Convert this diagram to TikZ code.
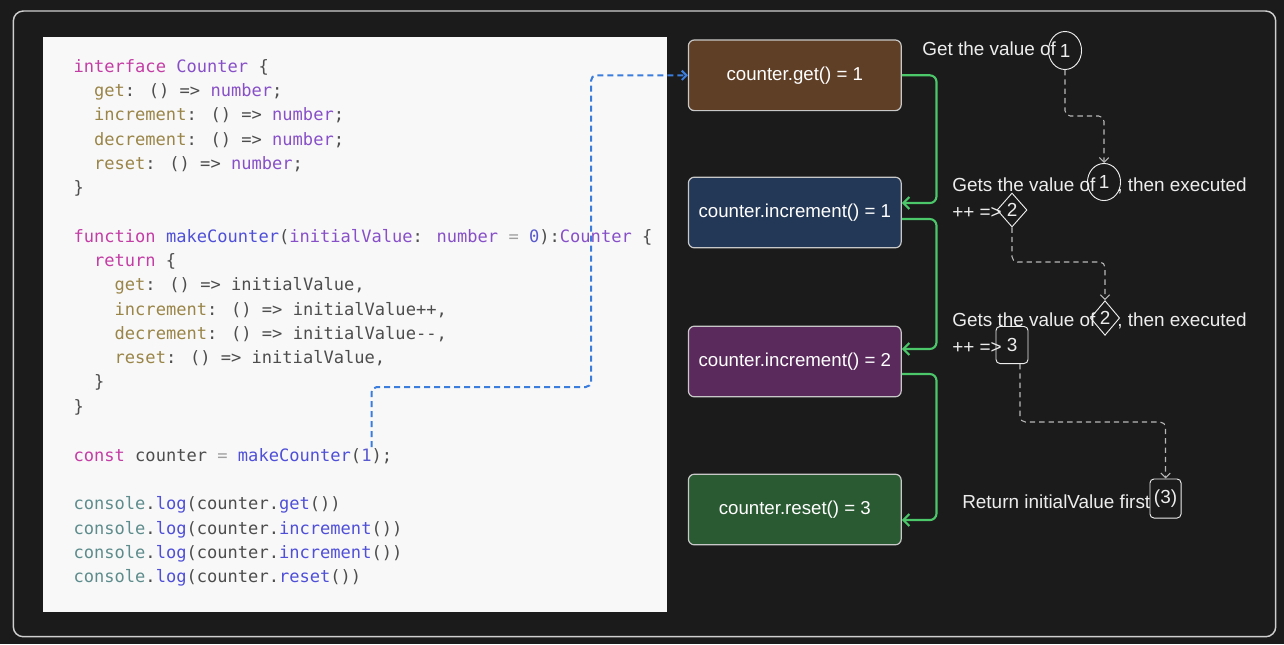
\documentclass[tikz,border=0pt]{standalone}
\usepackage{fontspec}
\setmainfont{Liberation Sans}
\newfontfamily\codefont{DejaVu Sans Mono}
\usetikzlibrary{arrows.meta,shapes.geometric,calc}
\definecolor{bgc}{HTML}{1B1B1B}
\definecolor{framec}{HTML}{CFCFCF}
\definecolor{panelc}{HTML}{F8F8F8}
\definecolor{ckw}{HTML}{C43DA5}
\definecolor{cty}{HTML}{8850C8}
\definecolor{cpr}{HTML}{9A8548}
\definecolor{cfn}{HTML}{4F4FD8}
\definecolor{ccon}{HTML}{5E8C8C}
\definecolor{cnum}{HTML}{5A5ACF}
\definecolor{cop}{HTML}{A0A0A0}
\definecolor{cplain}{HTML}{4D4D4D}
\definecolor{brownbox}{HTML}{603F27}
\definecolor{bluebox}{HTML}{233756}
\definecolor{purplebox}{HTML}{5B2A5D}
\definecolor{greenbox}{HTML}{2A5A32}
\definecolor{boxline}{HTML}{C8C8C8}
\definecolor{garrowc}{HTML}{4CC76A}
\definecolor{bdashc}{HTML}{3B7DDD}
\definecolor{gdashc}{HTML}{B8B8B8}
\definecolor{textw}{HTML}{EDEDED}
\newcommand\tkkw[1]{\textcolor{ckw}{#1}}
\newcommand\tkty[1]{\textcolor{cty}{#1}}
\newcommand\tkpr[1]{\textcolor{cpr}{#1}}
\newcommand\tkfn[1]{\textcolor{cfn}{#1}}
\newcommand\tkcon[1]{\textcolor{ccon}{#1}}
\newcommand\tknum[1]{\textcolor{cnum}{#1}}
\newcommand\tkop[1]{\textcolor{cop}{#1}}
\tikzset{
  codeline/.style={anchor=base west, inner sep=0pt, font=\codefont\fontsize{12.8pt}{15pt}\selectfont, text=cplain},
  fbox/.style={draw=boxline, line width=0.9pt, rounded corners=4.5pt, minimum width=159.6pt, minimum height=53pt, inner sep=0pt, text=white, font=\fontsize{14pt}{16pt}\selectfont},
  note/.style={anchor=base west, inner sep=0pt, text=textw, font=\fontsize{14.2pt}{16pt}\selectfont},
  numshape/.style={draw=textw, line width=0.7pt, inner sep=0pt, text=textw, font=\fontsize{14.2pt}{16pt}\selectfont},
  garrow/.style={draw=garrowc, line width=1.6pt, rounded corners=5pt, -{Straight Barb[length=4.5pt,width=9pt,line width=1.6pt]}},
  bdash/.style={draw=bdashc, line width=1.5pt, rounded corners=4pt, dash pattern=on 4.5pt off 3pt, -{Straight Barb[length=3.5pt,width=7pt,line width=1.5pt]}},
  gdash/.style={draw=gdashc, line width=0.8pt, rounded corners=4pt, dash pattern=on 4pt off 3pt, -{Straight Barb[length=3.5pt,width=7pt,line width=0.8pt]}}
}
\begin{document}
\begin{tikzpicture}[x=0.75pt,y=-0.75pt]
\fill[bgc] (0,0) rectangle (1284,644);
\useasboundingbox (0,0) rectangle (1284,644);
\draw[framec, line width=1.1pt, rounded corners=7.5pt] (13.3,11) rectangle (1275.7,636.7);
\fill[panelc] (42.7,37.3) rectangle (667,612);
% code
\node[codeline] (l0) at (73.3,72.2) {\tkkw{interface} \tkty{Counter} \{};
\node[codeline] (l1) at (93.8,96.5) {\tkpr{get}: () => \tkty{number};};
\node[codeline] (l2) at (93.8,120.7) {\tkpr{increment}: () => \tkty{number};};
\node[codeline] (l3) at (93.8,145) {\tkpr{decrement}: () => \tkty{number};};
\node[codeline] (l4) at (93.8,169.2) {\tkpr{reset}: () => \tkty{number};};
\node[codeline] (l5) at (73.3,193.5) {\}};
\node[codeline] (l7) at (73.3,242.2) {\tkkw{function} \tkfn{makeCounter}(\tkty{initialValue}: \tkty{number} \tkop{=} \tknum{0}):\tkty{Counter} \{};
\node[codeline] (l8) at (93.8,266.5) {\tkkw{return} \{};
\node[codeline] (l9) at (114.4,290.7) {\tkpr{get}: () => initialValue,};
\node[codeline] (l10) at (114.4,315) {\tkpr{increment}: () => initialValue++,};
\node[codeline] (l11) at (114.4,339.2) {\tkpr{decrement}: () => initialValue-{}-,};
\node[codeline] (l12) at (114.4,363.5) {\tkpr{reset}: () => initialValue,};
\node[codeline] (l13) at (93.8,387.7) {\}};
\node[codeline] (l14) at (73.3,412) {\}};
\node[codeline] (l16) at (73.3,461) {\tkkw{const} counter \tkop{=} \tkfn{makeCounter}(\tknum{1});};
\node[codeline] (l18) at (73.3,509.5) {\tkcon{console}.\tkfn{log}(counter.\tkfn{get}())};
\node[codeline] (l19) at (73.3,534) {\tkcon{console}.\tkfn{log}(counter.\tkfn{increment}())};
\node[codeline] (l20) at (73.3,558.2) {\tkcon{console}.\tkfn{log}(counter.\tkfn{increment}())};
\node[codeline] (l21) at (73.3,582.5) {\tkcon{console}.\tkfn{log}(counter.\tkfn{reset}())};
% boxes
\node[fbox, fill=brownbox] (get) at (794.8,75.3) {counter.get() = 1};
\node[fbox, fill=bluebox] (inc1) at (794.8,212.5) {counter.increment() = 1};
\node[fbox, fill=purplebox] (inc2) at (794.8,361.5) {counter.increment() = 2};
\node[fbox, fill=greenbox] (rst) at (794.8,509.5) {counter.reset() = 3};
% green connectors
\draw[garrow] (get.east) -- (936.5,75.3) |- ([yshift=7.1pt]inc1.east);
\draw[garrow] ([yshift=-4.9pt]inc1.east) -- (936.5,219) |- ([yshift=9.4pt]inc2.east);
\draw[garrow] ([yshift=-9.4pt]inc2.east) -- (936.5,374) |- ([yshift=-7.9pt]rst.east);
% blue dashed connector
\coordinate (src) at (371.5,447);
\draw[bdash] (src) -- (371.5,387) -- (591,387) -- (591,75.3) -- (get.west);
% notes
\node[note] (t1) at (922,55) {Get the value of};
\node[numshape, ellipse, minimum width=24.8pt, minimum height=28.5pt] (e1) at (1065,50.5) {1};
\node[note] (t2) at (952,191) {Gets the value of};
\node[numshape, ellipse, minimum width=24.8pt, minimum height=27.8pt] (e2) at (1104,182) {1};
\node[note] (t2b) at (1117,191) {, then executed};
\node[note] (t3) at (952,218) {++ =>};
\node[numshape, diamond, minimum width=22.5pt, minimum height=25.5pt] (d1) at (1012,210) {2};
\node[note] (t4) at (952,326) {Gets the value of};
\node[numshape, diamond, minimum width=22pt, minimum height=26pt] (d2) at (1105,318) {2};
\node[note] (t4b) at (1117,326) {, then executed};
\node[note] (t5) at (952,353) {++ =>};
\node[numshape, rectangle, rounded corners=3pt, minimum width=24pt, minimum height=27.8pt] (r1) at (1012,345) {3};
\node[note] (t6) at (962,508) {Return initialValue first};
\node[numshape, rectangle, rounded corners=3pt, minimum width=23.3pt, minimum height=29.3pt] (r2) at (1165.5,498.5) {(3)};
% gray dashed connectors
\draw[gdash] (e1.south) -- (1065,116) -- (1104,116) -- (e2.north);
\draw[gdash] (d1.south) -- (1012,262) -- (1105,262) -- (d2.north);
\draw[gdash] ([xshift=6pt]r1.south) -- (1020,422) -- (1165.5,422) -- (r2.north);
\end{tikzpicture}
\end{document}
